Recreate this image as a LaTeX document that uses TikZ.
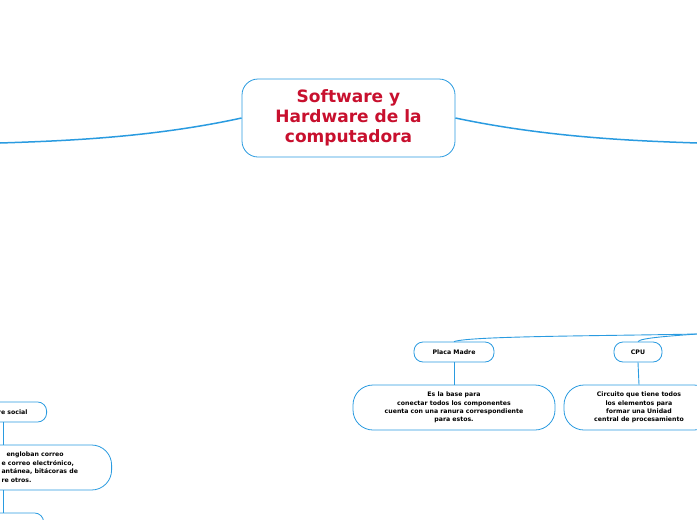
\documentclass[tikz,border=0pt]{standalone}
\usepackage{fontspec}
\setmainfont{DejaVu Sans}
\definecolor{ln}{HTML}{2A9BE0}
\definecolor{tt}{HTML}{C8102E}
\begin{document}
\begin{tikzpicture}[x=1pt,y=-1pt,
 box/.style={draw=ln,line width=0.8pt,rounded corners=11pt,fill=white},
 sm/.style={font=\bfseries\fontsize{6.2}{8.4}\selectfont,align=center},
 conn/.style={draw=ln,line width=1.5pt},
 thin/.style={draw=ln,line width=0.9pt}]
\useasboundingbox (0,0) rectangle (697,520);
\clip (0,0) rectangle (697,520);
% title
\node[box,rounded corners=16pt,minimum width=213pt,minimum height=78pt,text=tt,font=\bfseries\fontsize{17}{20}\selectfont,align=center] (title) at (348.5,118) {Software y\\Hardware de la\\computadora};
\coordinate (L) at (0,143);
\coordinate (R) at (697,143);
\draw[conn] (title.west) .. controls (150,138) and (60,141) .. (L);
\draw[conn] (title.east) .. controls (550,138) and (640,141) .. (R);
% right side
\coordinate (RR) at (697,334);
\node[box,rounded corners=9pt,minimum width=80pt,minimum height=20pt,sm] (pm) at (454,352) {Placa Madre};
\node[box,rounded corners=9pt,minimum width=48pt,minimum height=20pt,sm] (cpu) at (638,352) {CPU};
\draw[thin] (pm.north) .. controls (470,336) and (600,336) .. (RR);
\draw[thin] (cpu.north) .. controls (640,338) and (670,336) .. (RR);
\node[box,rounded corners=20pt,minimum width=202pt,minimum height=45pt,sm] (pmd) at (454,407.5) {Es la base para\\conectar todos los componentes\\cuenta con una ranura correspondiente\\para estos.};
\node[box,rounded corners=20pt,minimum width=150pt,minimum height=45pt,sm] (cpud) at (639,407.5) {Circuito que tiene todos\\los elementos para\\formar una Unidad\\central de procesamiento};
\draw[thin] (pm.south) -- (pmd.north);
\draw[thin] (cpu.south) -- (cpud.north);
% left side
\node[box,rounded corners=9pt,minimum width=80pt,minimum height=20pt,anchor=east] (ss) at (47,412) {};
\node[sm,anchor=east] (sst) at (31,412) {re social};
\node[box,rounded corners=20pt,minimum width=150pt,minimum height=45pt,anchor=east] (sd) at (112,467.5) {};
\node[sm,anchor=west] (l1) at (3,454.5) {engloban correo};
\node[sm,anchor=west] (l2) at (-2,463) {e correo electrónico,};
\node[sm,anchor=west] (l3) at (-2,471.5) {antánea, bitácoras de};
\node[sm,anchor=west] (l4) at (-2,480) {re otros.};
\node[box,rounded corners=9pt,minimum width=80pt,minimum height=20pt,anchor=east] (nb) at (44,523) {};
\draw[thin] (3,422) -- (3,445);
\draw[thin] (3,490) -- (3,513);
\end{tikzpicture}
\end{document}
